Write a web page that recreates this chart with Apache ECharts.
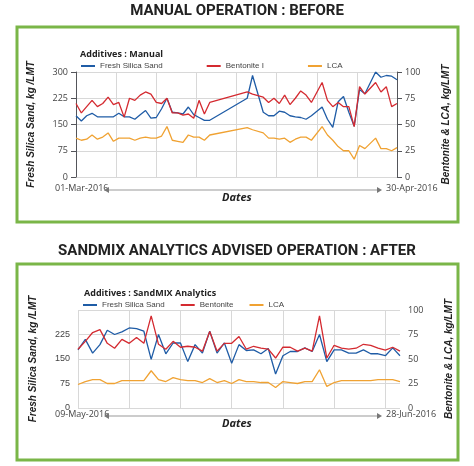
<!DOCTYPE html>
<html>
<head>
<meta charset="utf-8">
<script src="https://cdn.jsdelivr.net/npm/echarts@6/dist/echarts.min.js"></script>
<style>html,body{margin:0;padding:0;background:#fff}#c{width:474px;height:466px}</style>
</head>
<body>
<div id="c"></div>
<script>
// before: day index from 01-Mar-2016
var beforeDays = [0,1,2,3,4,5,6,7,8,9,10,11,12,13,14,15,16,17,18,19,20,21,22,23,24,25,
    32,33,35,36,37,38,39,40,41,42,43,44,46,47,48,49,50,51,52,53,54,56,57,58,59,60];
var beforeSand = [175,160,175,182,172,172,172,172,182,172,172,165,178,190,168,170,195,225,185,183,180,200,178,170,162,162,
    225,290,185,175,175,188,185,175,172,170,165,175,200,165,142,215,230,185,145,250,238,300,285,290,288,278];
var beforeBent = [70,61,67,73,67,70,76,69,71,57,75,73,78,81,79,71,70,75,61,61,59,60,56,73,60,71,
    81,79,76,71,75,70,78,69,75,82,78,71,90,73,67,71,67,67,48,86,79,90,81,86,67,70];
var beforeLca = [37,35,36,40,36,38,42,34,37,37,37,35,37,38,37,37,39,48,35,34,33,40,38,38,35,40,
    47,45,42,37,37,36,37,33,36,38,38,35,48,40,35,29,25,25,17,30,27,37,27,27,25,28];

// after: readings from 09-May-2016 to 28-Jun-2016
var afterSand = [178,210,168,194,238,225,233,245,243,235,149,225,166,199,199,142,194,168,235,168,199,137,194,176,178,166,182,104,160,173,173,184,173,225,142,178,178,168,168,178,166,166,160,184,160];
var afterBent = [60,68,77,80,66,61,70,66,72,66,94,65,60,68,62,63,62,58,78,58,66,66,73,60,63,61,60,51,62,62,58,61,58,94,51,64,61,60,61,65,64,61,59,62,58];
var afterLca = [24,27,29,29,25,25,28,28,28,28,38,29,27,31,29,28,28,26,30,26,28,25,29,27,27,26,26,21,27,26,25,27,27,39,22,26,28,28,28,28,28,29,29,29,27];
var afterIdx = afterSand.map(function (v, i) { return i; });

var BLUE = '#1f5ca6', RED = '#d42a30', ORANGE = '#f0a232';
var lbl = { color: '#444', fontSize: 9, fontFamily: 'Open Sans' };
var split = { show: true, lineStyle: { color: '#d8d8d8' } };
var nameStyle = { fontSize: 10, fontWeight: 'bold', fontStyle: 'italic', color: '#222' };

function pairs(xs, ys) { return xs.map(function (x, i) { return [x, ys[i]]; }); }
function line(name, color, xi, yi, data) {
    return { name: name, type: 'line', xAxisIndex: xi, yAxisIndex: yi, data: data,
        symbol: 'none', lineStyle: { color: color, width: 1.3 }, itemStyle: { color: color } };
}
function datesBlock(y, left, right) {
    return [
        { type: 'text', left: 55, top: y - 6, style: { text: left, fontSize: 9, fill: '#444', fontFamily: 'Open Sans' } },
        { type: 'line', shape: { x1: 108, y1: y, x2: 378, y2: y }, style: { stroke: '#999', lineWidth: 1 } },
        { type: 'polygon', shape: { points: [[104, y], [109, y - 3], [109, y + 3]] }, style: { fill: '#777' } },
        { type: 'polygon', shape: { points: [[382, y], [377, y - 3], [377, y + 3]] }, style: { fill: '#777' } },
        { type: 'text', left: 386, top: y - 6, style: { text: right, fontSize: 9, fill: '#444', fontFamily: 'Open Sans' } },
        { type: 'text', left: 222, top: y + 2, style: { text: 'Dates', fontSize: 11, fontWeight: 'bold', fontStyle: 'italic', fill: '#222', fontFamily: 'Open Sans' } }
    ];
}
var heading = { fontSize: 15, fontWeight: 'bold', fill: '#222', fontFamily: 'Liberation Sans Narrow, Roboto', textAlign: 'center' };

var option = {
    backgroundColor: '#fff',
    animation: false,
    title: [
        { text: 'Additives : Manual', left: 75, top: 45, textStyle: { fontSize: 9, fontWeight: 'bold', color: '#222', fontFamily: 'Open Sans' } },
        { text: 'Additives : SandMIX Analytics', left: 79, top: 284, textStyle: { fontSize: 9, fontWeight: 'bold', color: '#222', fontFamily: 'Open Sans' } }
    ],
    legend: [
        { data: ['Fresh Silica Sand', 'Bentonite I', 'LCA'], left: 76, top: 57, itemWidth: 14, itemHeight: 2, icon: 'rect', itemGap: 44,
          textStyle: { fontSize: 8, color: '#444' } },
        { data: ['Fresh Silica Sand', 'Bentonite', 'LCA'], left: 78, top: 296, itemWidth: 14, itemHeight: 2, icon: 'rect', itemGap: 16,
          textStyle: { fontSize: 8, color: '#444' } }
    ],
    grid: [
        { left: 76, right: 77, top: 72, height: 105 },
        { left: 78, right: 74, top: 310, height: 98 }
    ],
    xAxis: [
        { type: 'value', gridIndex: 0, min: 0, max: 60, interval: 7.5, axisLabel: { show: false },
          axisTick: { show: false }, axisLine: { show: false }, splitLine: split },
        { type: 'category', gridIndex: 1, data: afterIdx, boundaryGap: false, axisLabel: { show: false },
          axisTick: { show: false }, axisLine: { show: false },
          splitLine: { show: true, interval: 6, lineStyle: { color: '#d8d8d8' } } }
    ],
    yAxis: [
        { type: 'value', gridIndex: 0, min: 0, max: 300, interval: 75, axisLabel: lbl, splitLine: split,
          name: 'Fresh Silica Sand, kg /LMT', nameLocation: 'middle', nameGap: 40, nameTextStyle: nameStyle },
        { type: 'value', gridIndex: 0, min: 0, max: 100, interval: 25, axisLabel: lbl, splitLine: { show: false },
          name: 'Bentonite & LCA, kg/LMT', nameLocation: 'middle', nameGap: 44, nameRotate: 90, nameTextStyle: nameStyle },
        { type: 'value', gridIndex: 1, min: 0, max: 300, interval: 75, splitLine: split,
          axisLabel: { color: '#444', fontSize: 9, showMaxLabel: false },
          name: 'Fresh Silica Sand, kg /LMT', nameLocation: 'middle', nameGap: 40, nameTextStyle: nameStyle },
        { type: 'value', gridIndex: 1, min: 0, max: 100, interval: 25, axisLabel: lbl, splitLine: { show: false },
          name: 'Bentonite & LCA, kg/LMT', nameLocation: 'middle', nameGap: 44, nameRotate: 90, nameTextStyle: nameStyle }
    ],
    series: [
        line('Fresh Silica Sand', BLUE, 0, 0, pairs(beforeDays, beforeSand)),
        line('Bentonite I', RED, 0, 1, pairs(beforeDays, beforeBent)),
        line('LCA', ORANGE, 0, 1, pairs(beforeDays, beforeLca)),
        line('Fresh Silica Sand', BLUE, 1, 2, afterSand),
        line('Bentonite', RED, 1, 3, afterBent),
        line('LCA', ORANGE, 1, 3, afterLca)
    ],
    graphic: [
        { type: 'text', left: 'center', top: 4, style: Object.assign({ text: 'MANUAL OPERATION : BEFORE' }, heading) },
        { type: 'rect', shape: { x: 17, y: 27, width: 441, height: 195 }, style: { fill: 'none', stroke: '#7ab648', lineWidth: 3 } },
        { type: 'text', left: 'center', top: 244, style: Object.assign({ text: 'SANDMIX ANALYTICS ADVISED OPERATION : AFTER' }, heading) },
        { type: 'rect', shape: { x: 17, y: 264, width: 441, height: 196 }, style: { fill: 'none', stroke: '#7ab648', lineWidth: 3 } }
    ].concat(datesBlock(190, '01-Mar-2016', '30-Apr-2016'), datesBlock(416, '09-May-2016', '28-Jun-2016'))
};

var chart = echarts.init(document.getElementById('c'));
chart.setOption(option);
</script>
</body>
</html>
